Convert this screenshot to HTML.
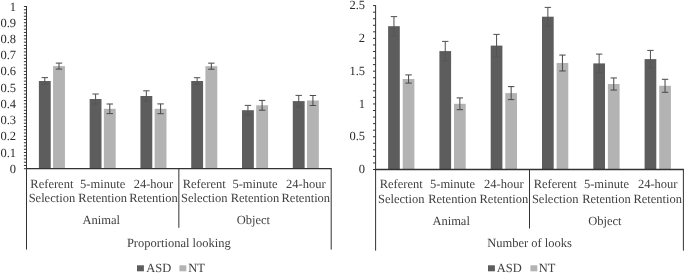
<!DOCTYPE html>
<html><head><meta charset="utf-8"><style>
html,body{margin:0;padding:0;background:#fff;}
body{width:685px;height:274px;overflow:hidden;}
svg{display:block;}
text{fill:#404040;text-rendering:geometricPrecision;}
</style></head><body>
<svg width="685" height="274" viewBox="0 0 685 274" font-family='"Liberation Serif", "Times New Roman", serif' font-size="12.5" fill="#404040"><rect x="38.87" y="81.00" width="11.85" height="87.70" fill="#5d5d5d"/>
<rect x="53.07" y="66.10" width="11.85" height="102.60" fill="#b3b3b3"/>
<line x1="44.79" y1="77.60" x2="44.79" y2="84.40" stroke="#565656" stroke-width="1.05"/>
<line x1="41.59" y1="77.60" x2="47.99" y2="77.60" stroke="#565656" stroke-width="1.05"/>
<line x1="41.59" y1="84.40" x2="47.99" y2="84.40" stroke="#565656" stroke-width="1.05"/>
<line x1="58.99" y1="63.10" x2="58.99" y2="69.10" stroke="#4d4d4d" stroke-width="1.05"/>
<line x1="55.79" y1="63.10" x2="62.19" y2="63.10" stroke="#4d4d4d" stroke-width="1.05"/>
<line x1="55.79" y1="69.10" x2="62.19" y2="69.10" stroke="#4d4d4d" stroke-width="1.05"/>
<rect x="89.65" y="99.00" width="11.85" height="69.70" fill="#5d5d5d"/>
<rect x="103.85" y="108.80" width="11.85" height="59.90" fill="#b3b3b3"/>
<line x1="95.58" y1="94.00" x2="95.58" y2="104.00" stroke="#565656" stroke-width="1.05"/>
<line x1="92.38" y1="94.00" x2="98.78" y2="94.00" stroke="#565656" stroke-width="1.05"/>
<line x1="92.38" y1="104.00" x2="98.78" y2="104.00" stroke="#565656" stroke-width="1.05"/>
<line x1="109.77" y1="104.00" x2="109.77" y2="113.60" stroke="#4d4d4d" stroke-width="1.05"/>
<line x1="106.57" y1="104.00" x2="112.97" y2="104.00" stroke="#4d4d4d" stroke-width="1.05"/>
<line x1="106.57" y1="113.60" x2="112.97" y2="113.60" stroke="#4d4d4d" stroke-width="1.05"/>
<rect x="140.43" y="96.00" width="11.85" height="72.70" fill="#5d5d5d"/>
<rect x="154.63" y="108.80" width="11.85" height="59.90" fill="#b3b3b3"/>
<line x1="146.36" y1="90.80" x2="146.36" y2="101.20" stroke="#565656" stroke-width="1.05"/>
<line x1="143.16" y1="90.80" x2="149.56" y2="90.80" stroke="#565656" stroke-width="1.05"/>
<line x1="143.16" y1="101.20" x2="149.56" y2="101.20" stroke="#565656" stroke-width="1.05"/>
<line x1="160.56" y1="103.90" x2="160.56" y2="113.70" stroke="#4d4d4d" stroke-width="1.05"/>
<line x1="157.36" y1="103.90" x2="163.76" y2="103.90" stroke="#4d4d4d" stroke-width="1.05"/>
<line x1="157.36" y1="113.70" x2="163.76" y2="113.70" stroke="#4d4d4d" stroke-width="1.05"/>
<rect x="191.22" y="81.00" width="11.85" height="87.70" fill="#5d5d5d"/>
<rect x="205.42" y="66.20" width="11.85" height="102.50" fill="#b3b3b3"/>
<line x1="197.14" y1="77.70" x2="197.14" y2="84.30" stroke="#565656" stroke-width="1.05"/>
<line x1="193.94" y1="77.70" x2="200.34" y2="77.70" stroke="#565656" stroke-width="1.05"/>
<line x1="193.94" y1="84.30" x2="200.34" y2="84.30" stroke="#565656" stroke-width="1.05"/>
<line x1="211.34" y1="63.15" x2="211.34" y2="69.25" stroke="#4d4d4d" stroke-width="1.05"/>
<line x1="208.14" y1="63.15" x2="214.54" y2="63.15" stroke="#4d4d4d" stroke-width="1.05"/>
<line x1="208.14" y1="69.25" x2="214.54" y2="69.25" stroke="#4d4d4d" stroke-width="1.05"/>
<rect x="242.00" y="110.20" width="11.85" height="58.50" fill="#5d5d5d"/>
<rect x="256.20" y="105.30" width="11.85" height="63.40" fill="#b3b3b3"/>
<line x1="247.92" y1="105.40" x2="247.92" y2="115.00" stroke="#565656" stroke-width="1.05"/>
<line x1="244.72" y1="105.40" x2="251.12" y2="105.40" stroke="#565656" stroke-width="1.05"/>
<line x1="244.72" y1="115.00" x2="251.12" y2="115.00" stroke="#565656" stroke-width="1.05"/>
<line x1="262.12" y1="100.40" x2="262.12" y2="110.20" stroke="#4d4d4d" stroke-width="1.05"/>
<line x1="258.93" y1="100.40" x2="265.32" y2="100.40" stroke="#4d4d4d" stroke-width="1.05"/>
<line x1="258.93" y1="110.20" x2="265.32" y2="110.20" stroke="#4d4d4d" stroke-width="1.05"/>
<rect x="292.78" y="101.10" width="11.85" height="67.60" fill="#5d5d5d"/>
<rect x="306.98" y="100.50" width="11.85" height="68.20" fill="#b3b3b3"/>
<line x1="298.71" y1="95.40" x2="298.71" y2="106.80" stroke="#565656" stroke-width="1.05"/>
<line x1="295.51" y1="95.40" x2="301.91" y2="95.40" stroke="#565656" stroke-width="1.05"/>
<line x1="295.51" y1="106.80" x2="301.91" y2="106.80" stroke="#565656" stroke-width="1.05"/>
<line x1="312.91" y1="95.50" x2="312.91" y2="105.50" stroke="#4d4d4d" stroke-width="1.05"/>
<line x1="309.71" y1="95.50" x2="316.11" y2="95.50" stroke="#4d4d4d" stroke-width="1.05"/>
<line x1="309.71" y1="105.50" x2="316.11" y2="105.50" stroke="#4d4d4d" stroke-width="1.05"/>
<line x1="26.50" y1="6.00" x2="26.50" y2="249.60" stroke="#333333" stroke-width="1"/>
<line x1="23.90" y1="168.70" x2="26.50" y2="168.70" stroke="#333333" stroke-width="1"/>
<line x1="23.90" y1="165.46" x2="26.50" y2="165.46" stroke="#333333" stroke-width="1"/>
<line x1="23.90" y1="162.21" x2="26.50" y2="162.21" stroke="#333333" stroke-width="1"/>
<line x1="23.90" y1="158.97" x2="26.50" y2="158.97" stroke="#333333" stroke-width="1"/>
<line x1="23.90" y1="155.72" x2="26.50" y2="155.72" stroke="#333333" stroke-width="1"/>
<line x1="23.90" y1="152.48" x2="26.50" y2="152.48" stroke="#333333" stroke-width="1"/>
<line x1="23.90" y1="149.24" x2="26.50" y2="149.24" stroke="#333333" stroke-width="1"/>
<line x1="23.90" y1="145.99" x2="26.50" y2="145.99" stroke="#333333" stroke-width="1"/>
<line x1="23.90" y1="142.75" x2="26.50" y2="142.75" stroke="#333333" stroke-width="1"/>
<line x1="23.90" y1="139.50" x2="26.50" y2="139.50" stroke="#333333" stroke-width="1"/>
<line x1="23.90" y1="136.26" x2="26.50" y2="136.26" stroke="#333333" stroke-width="1"/>
<line x1="23.90" y1="133.02" x2="26.50" y2="133.02" stroke="#333333" stroke-width="1"/>
<line x1="23.90" y1="129.77" x2="26.50" y2="129.77" stroke="#333333" stroke-width="1"/>
<line x1="23.90" y1="126.53" x2="26.50" y2="126.53" stroke="#333333" stroke-width="1"/>
<line x1="23.90" y1="123.28" x2="26.50" y2="123.28" stroke="#333333" stroke-width="1"/>
<line x1="23.90" y1="120.04" x2="26.50" y2="120.04" stroke="#333333" stroke-width="1"/>
<line x1="23.90" y1="116.80" x2="26.50" y2="116.80" stroke="#333333" stroke-width="1"/>
<line x1="23.90" y1="113.55" x2="26.50" y2="113.55" stroke="#333333" stroke-width="1"/>
<line x1="23.90" y1="110.31" x2="26.50" y2="110.31" stroke="#333333" stroke-width="1"/>
<line x1="23.90" y1="107.06" x2="26.50" y2="107.06" stroke="#333333" stroke-width="1"/>
<line x1="23.90" y1="103.82" x2="26.50" y2="103.82" stroke="#333333" stroke-width="1"/>
<line x1="23.90" y1="100.58" x2="26.50" y2="100.58" stroke="#333333" stroke-width="1"/>
<line x1="23.90" y1="97.33" x2="26.50" y2="97.33" stroke="#333333" stroke-width="1"/>
<line x1="23.90" y1="94.09" x2="26.50" y2="94.09" stroke="#333333" stroke-width="1"/>
<line x1="23.90" y1="90.84" x2="26.50" y2="90.84" stroke="#333333" stroke-width="1"/>
<line x1="23.90" y1="87.60" x2="26.50" y2="87.60" stroke="#333333" stroke-width="1"/>
<line x1="23.90" y1="84.36" x2="26.50" y2="84.36" stroke="#333333" stroke-width="1"/>
<line x1="23.90" y1="81.11" x2="26.50" y2="81.11" stroke="#333333" stroke-width="1"/>
<line x1="23.90" y1="77.87" x2="26.50" y2="77.87" stroke="#333333" stroke-width="1"/>
<line x1="23.90" y1="74.62" x2="26.50" y2="74.62" stroke="#333333" stroke-width="1"/>
<line x1="23.90" y1="71.38" x2="26.50" y2="71.38" stroke="#333333" stroke-width="1"/>
<line x1="23.90" y1="68.14" x2="26.50" y2="68.14" stroke="#333333" stroke-width="1"/>
<line x1="23.90" y1="64.89" x2="26.50" y2="64.89" stroke="#333333" stroke-width="1"/>
<line x1="23.90" y1="61.65" x2="26.50" y2="61.65" stroke="#333333" stroke-width="1"/>
<line x1="23.90" y1="58.40" x2="26.50" y2="58.40" stroke="#333333" stroke-width="1"/>
<line x1="23.90" y1="55.16" x2="26.50" y2="55.16" stroke="#333333" stroke-width="1"/>
<line x1="23.90" y1="51.92" x2="26.50" y2="51.92" stroke="#333333" stroke-width="1"/>
<line x1="23.90" y1="48.67" x2="26.50" y2="48.67" stroke="#333333" stroke-width="1"/>
<line x1="23.90" y1="45.43" x2="26.50" y2="45.43" stroke="#333333" stroke-width="1"/>
<line x1="23.90" y1="42.18" x2="26.50" y2="42.18" stroke="#333333" stroke-width="1"/>
<line x1="23.90" y1="38.94" x2="26.50" y2="38.94" stroke="#333333" stroke-width="1"/>
<line x1="23.90" y1="35.70" x2="26.50" y2="35.70" stroke="#333333" stroke-width="1"/>
<line x1="23.90" y1="32.45" x2="26.50" y2="32.45" stroke="#333333" stroke-width="1"/>
<line x1="23.90" y1="29.21" x2="26.50" y2="29.21" stroke="#333333" stroke-width="1"/>
<line x1="23.90" y1="25.96" x2="26.50" y2="25.96" stroke="#333333" stroke-width="1"/>
<line x1="23.90" y1="22.72" x2="26.50" y2="22.72" stroke="#333333" stroke-width="1"/>
<line x1="23.90" y1="19.48" x2="26.50" y2="19.48" stroke="#333333" stroke-width="1"/>
<line x1="23.90" y1="16.23" x2="26.50" y2="16.23" stroke="#333333" stroke-width="1"/>
<line x1="23.90" y1="12.99" x2="26.50" y2="12.99" stroke="#333333" stroke-width="1"/>
<line x1="23.90" y1="9.74" x2="26.50" y2="9.74" stroke="#333333" stroke-width="1"/>
<line x1="23.90" y1="6.50" x2="26.50" y2="6.50" stroke="#333333" stroke-width="1"/>
<line x1="26.00" y1="168.70" x2="331.70" y2="168.70" stroke="#333333" stroke-width="1.3"/>
<line x1="331.20" y1="168.70" x2="331.20" y2="249.60" stroke="#333333" stroke-width="1"/>
<line x1="178.85" y1="168.70" x2="178.85" y2="227.80" stroke="#333333" stroke-width="1"/>
<text x="16.00" y="10.60" text-anchor="end" style="fill:#2b2b2b">1</text>
<text x="16.00" y="26.82" text-anchor="end" style="fill:#2b2b2b">0.9</text>
<text x="16.00" y="43.04" text-anchor="end" style="fill:#2b2b2b">0.8</text>
<text x="16.00" y="59.26" text-anchor="end" style="fill:#2b2b2b">0.7</text>
<text x="16.00" y="75.48" text-anchor="end" style="fill:#2b2b2b">0.6</text>
<text x="16.00" y="91.70" text-anchor="end" style="fill:#2b2b2b">0.5</text>
<text x="16.00" y="107.92" text-anchor="end" style="fill:#2b2b2b">0.4</text>
<text x="16.00" y="124.14" text-anchor="end" style="fill:#2b2b2b">0.3</text>
<text x="16.00" y="140.36" text-anchor="end" style="fill:#2b2b2b">0.2</text>
<text x="16.00" y="156.58" text-anchor="end" style="fill:#2b2b2b">0.1</text>
<text x="16.00" y="172.80" text-anchor="end" style="fill:#2b2b2b">0</text>
<text x="51.89" y="187.80" text-anchor="middle">Referent</text>
<text x="51.89" y="201.90" text-anchor="middle">Selection</text>
<text x="102.67" y="187.80" text-anchor="middle">5-minute</text>
<text x="102.67" y="201.90" text-anchor="middle">Retention</text>
<text x="153.46" y="187.80" text-anchor="middle">24-hour</text>
<text x="153.46" y="201.90" text-anchor="middle">Retention</text>
<text x="204.24" y="187.80" text-anchor="middle">Referent</text>
<text x="204.24" y="201.90" text-anchor="middle">Selection</text>
<text x="255.02" y="187.80" text-anchor="middle">5-minute</text>
<text x="255.02" y="201.90" text-anchor="middle">Retention</text>
<text x="305.81" y="187.80" text-anchor="middle">24-hour</text>
<text x="305.81" y="201.90" text-anchor="middle">Retention</text>
<text x="101.27" y="224.30" text-anchor="middle">Animal</text>
<text x="253.42" y="224.30" text-anchor="middle">Object</text>
<text x="178.85" y="247.00" text-anchor="middle">Proportional looking</text>
<rect x="137.00" y="265.30" width="6.90" height="6.00" fill="#5d5d5d"/>
<text x="146.30" y="271.70" text-anchor="start">ASD</text>
<rect x="179.40" y="265.30" width="6.90" height="6.00" fill="#b3b3b3"/>
<text x="188.20" y="271.70" text-anchor="start">NT</text>
<rect x="388.10" y="26.20" width="11.70" height="143.30" fill="#5d5d5d"/>
<rect x="402.70" y="79.00" width="11.70" height="90.50" fill="#b3b3b3"/>
<line x1="393.95" y1="16.60" x2="393.95" y2="35.80" stroke="#565656" stroke-width="1.05"/>
<line x1="390.75" y1="16.60" x2="397.15" y2="16.60" stroke="#565656" stroke-width="1.05"/>
<line x1="390.75" y1="35.80" x2="397.15" y2="35.80" stroke="#565656" stroke-width="1.05"/>
<line x1="408.55" y1="74.90" x2="408.55" y2="83.10" stroke="#4d4d4d" stroke-width="1.05"/>
<line x1="405.35" y1="74.90" x2="411.75" y2="74.90" stroke="#4d4d4d" stroke-width="1.05"/>
<line x1="405.35" y1="83.10" x2="411.75" y2="83.10" stroke="#4d4d4d" stroke-width="1.05"/>
<rect x="439.40" y="51.10" width="11.70" height="118.40" fill="#5d5d5d"/>
<rect x="454.00" y="103.80" width="11.70" height="65.70" fill="#b3b3b3"/>
<line x1="445.25" y1="41.40" x2="445.25" y2="60.80" stroke="#565656" stroke-width="1.05"/>
<line x1="442.05" y1="41.40" x2="448.45" y2="41.40" stroke="#565656" stroke-width="1.05"/>
<line x1="442.05" y1="60.80" x2="448.45" y2="60.80" stroke="#565656" stroke-width="1.05"/>
<line x1="459.85" y1="97.90" x2="459.85" y2="109.70" stroke="#4d4d4d" stroke-width="1.05"/>
<line x1="456.65" y1="97.90" x2="463.05" y2="97.90" stroke="#4d4d4d" stroke-width="1.05"/>
<line x1="456.65" y1="109.70" x2="463.05" y2="109.70" stroke="#4d4d4d" stroke-width="1.05"/>
<rect x="490.70" y="45.60" width="11.70" height="123.90" fill="#5d5d5d"/>
<rect x="505.30" y="93.10" width="11.70" height="76.40" fill="#b3b3b3"/>
<line x1="496.55" y1="34.40" x2="496.55" y2="56.80" stroke="#565656" stroke-width="1.05"/>
<line x1="493.35" y1="34.40" x2="499.75" y2="34.40" stroke="#565656" stroke-width="1.05"/>
<line x1="493.35" y1="56.80" x2="499.75" y2="56.80" stroke="#565656" stroke-width="1.05"/>
<line x1="511.15" y1="86.60" x2="511.15" y2="99.60" stroke="#4d4d4d" stroke-width="1.05"/>
<line x1="507.95" y1="86.60" x2="514.35" y2="86.60" stroke="#4d4d4d" stroke-width="1.05"/>
<line x1="507.95" y1="99.60" x2="514.35" y2="99.60" stroke="#4d4d4d" stroke-width="1.05"/>
<rect x="542.00" y="16.70" width="11.70" height="152.80" fill="#5d5d5d"/>
<rect x="556.60" y="63.00" width="11.70" height="106.50" fill="#b3b3b3"/>
<line x1="547.85" y1="7.40" x2="547.85" y2="26.00" stroke="#565656" stroke-width="1.05"/>
<line x1="544.65" y1="7.40" x2="551.05" y2="7.40" stroke="#565656" stroke-width="1.05"/>
<line x1="544.65" y1="26.00" x2="551.05" y2="26.00" stroke="#565656" stroke-width="1.05"/>
<line x1="562.45" y1="55.05" x2="562.45" y2="70.95" stroke="#4d4d4d" stroke-width="1.05"/>
<line x1="559.25" y1="55.05" x2="565.65" y2="55.05" stroke="#4d4d4d" stroke-width="1.05"/>
<line x1="559.25" y1="70.95" x2="565.65" y2="70.95" stroke="#4d4d4d" stroke-width="1.05"/>
<rect x="593.30" y="63.40" width="11.70" height="106.10" fill="#5d5d5d"/>
<rect x="607.90" y="84.00" width="11.70" height="85.50" fill="#b3b3b3"/>
<line x1="599.15" y1="54.10" x2="599.15" y2="72.70" stroke="#565656" stroke-width="1.05"/>
<line x1="595.95" y1="54.10" x2="602.35" y2="54.10" stroke="#565656" stroke-width="1.05"/>
<line x1="595.95" y1="72.70" x2="602.35" y2="72.70" stroke="#565656" stroke-width="1.05"/>
<line x1="613.75" y1="77.95" x2="613.75" y2="90.05" stroke="#4d4d4d" stroke-width="1.05"/>
<line x1="610.55" y1="77.95" x2="616.95" y2="77.95" stroke="#4d4d4d" stroke-width="1.05"/>
<line x1="610.55" y1="90.05" x2="616.95" y2="90.05" stroke="#4d4d4d" stroke-width="1.05"/>
<rect x="644.60" y="59.10" width="11.70" height="110.40" fill="#5d5d5d"/>
<rect x="659.20" y="85.80" width="11.70" height="83.70" fill="#b3b3b3"/>
<line x1="650.45" y1="50.40" x2="650.45" y2="67.80" stroke="#565656" stroke-width="1.05"/>
<line x1="647.25" y1="50.40" x2="653.65" y2="50.40" stroke="#565656" stroke-width="1.05"/>
<line x1="647.25" y1="67.80" x2="653.65" y2="67.80" stroke="#565656" stroke-width="1.05"/>
<line x1="665.05" y1="79.30" x2="665.05" y2="92.30" stroke="#4d4d4d" stroke-width="1.05"/>
<line x1="661.85" y1="79.30" x2="668.25" y2="79.30" stroke="#4d4d4d" stroke-width="1.05"/>
<line x1="661.85" y1="92.30" x2="668.25" y2="92.30" stroke="#4d4d4d" stroke-width="1.05"/>
<line x1="375.60" y1="5.10" x2="375.60" y2="250.60" stroke="#333333" stroke-width="1"/>
<line x1="373.00" y1="169.50" x2="375.60" y2="169.50" stroke="#333333" stroke-width="1"/>
<line x1="373.00" y1="162.94" x2="375.60" y2="162.94" stroke="#333333" stroke-width="1"/>
<line x1="373.00" y1="156.39" x2="375.60" y2="156.39" stroke="#333333" stroke-width="1"/>
<line x1="373.00" y1="149.83" x2="375.60" y2="149.83" stroke="#333333" stroke-width="1"/>
<line x1="373.00" y1="143.28" x2="375.60" y2="143.28" stroke="#333333" stroke-width="1"/>
<line x1="373.00" y1="136.72" x2="375.60" y2="136.72" stroke="#333333" stroke-width="1"/>
<line x1="373.00" y1="130.16" x2="375.60" y2="130.16" stroke="#333333" stroke-width="1"/>
<line x1="373.00" y1="123.61" x2="375.60" y2="123.61" stroke="#333333" stroke-width="1"/>
<line x1="373.00" y1="117.05" x2="375.60" y2="117.05" stroke="#333333" stroke-width="1"/>
<line x1="373.00" y1="110.50" x2="375.60" y2="110.50" stroke="#333333" stroke-width="1"/>
<line x1="373.00" y1="103.94" x2="375.60" y2="103.94" stroke="#333333" stroke-width="1"/>
<line x1="373.00" y1="97.38" x2="375.60" y2="97.38" stroke="#333333" stroke-width="1"/>
<line x1="373.00" y1="90.83" x2="375.60" y2="90.83" stroke="#333333" stroke-width="1"/>
<line x1="373.00" y1="84.27" x2="375.60" y2="84.27" stroke="#333333" stroke-width="1"/>
<line x1="373.00" y1="77.72" x2="375.60" y2="77.72" stroke="#333333" stroke-width="1"/>
<line x1="373.00" y1="71.16" x2="375.60" y2="71.16" stroke="#333333" stroke-width="1"/>
<line x1="373.00" y1="64.60" x2="375.60" y2="64.60" stroke="#333333" stroke-width="1"/>
<line x1="373.00" y1="58.05" x2="375.60" y2="58.05" stroke="#333333" stroke-width="1"/>
<line x1="373.00" y1="51.49" x2="375.60" y2="51.49" stroke="#333333" stroke-width="1"/>
<line x1="373.00" y1="44.94" x2="375.60" y2="44.94" stroke="#333333" stroke-width="1"/>
<line x1="373.00" y1="38.38" x2="375.60" y2="38.38" stroke="#333333" stroke-width="1"/>
<line x1="373.00" y1="31.82" x2="375.60" y2="31.82" stroke="#333333" stroke-width="1"/>
<line x1="373.00" y1="25.27" x2="375.60" y2="25.27" stroke="#333333" stroke-width="1"/>
<line x1="373.00" y1="18.71" x2="375.60" y2="18.71" stroke="#333333" stroke-width="1"/>
<line x1="373.00" y1="12.16" x2="375.60" y2="12.16" stroke="#333333" stroke-width="1"/>
<line x1="373.00" y1="5.60" x2="375.60" y2="5.60" stroke="#333333" stroke-width="1"/>
<line x1="375.10" y1="169.50" x2="683.90" y2="169.50" stroke="#333333" stroke-width="1.3"/>
<line x1="683.40" y1="169.50" x2="683.40" y2="250.60" stroke="#333333" stroke-width="1"/>
<line x1="529.50" y1="169.50" x2="529.50" y2="228.50" stroke="#333333" stroke-width="1"/>
<text x="365.00" y="9.30" text-anchor="end" style="fill:#2b2b2b">2.5</text>
<text x="365.00" y="42.08" text-anchor="end" style="fill:#2b2b2b">2</text>
<text x="365.00" y="74.86" text-anchor="end" style="fill:#2b2b2b">1.5</text>
<text x="365.00" y="107.64" text-anchor="end" style="fill:#2b2b2b">1</text>
<text x="365.00" y="140.42" text-anchor="end" style="fill:#2b2b2b">0.5</text>
<text x="365.00" y="173.20" text-anchor="end" style="fill:#2b2b2b">0</text>
<text x="401.25" y="188.30" text-anchor="middle">Referent</text>
<text x="401.25" y="202.80" text-anchor="middle">Selection</text>
<text x="452.55" y="188.30" text-anchor="middle">5-minute</text>
<text x="452.55" y="202.80" text-anchor="middle">Retention</text>
<text x="503.85" y="188.30" text-anchor="middle">24-hour</text>
<text x="503.85" y="202.80" text-anchor="middle">Retention</text>
<text x="555.15" y="188.30" text-anchor="middle">Referent</text>
<text x="555.15" y="202.80" text-anchor="middle">Selection</text>
<text x="606.45" y="188.30" text-anchor="middle">5-minute</text>
<text x="606.45" y="202.80" text-anchor="middle">Retention</text>
<text x="657.75" y="188.30" text-anchor="middle">24-hour</text>
<text x="657.75" y="202.80" text-anchor="middle">Retention</text>
<text x="451.15" y="224.70" text-anchor="middle">Animal</text>
<text x="604.85" y="224.70" text-anchor="middle">Object</text>
<text x="529.50" y="247.10" text-anchor="middle">Number of looks</text>
<rect x="488.00" y="265.30" width="6.90" height="6.00" fill="#5d5d5d"/>
<text x="496.80" y="271.70" text-anchor="start">ASD</text>
<rect x="530.40" y="265.30" width="6.90" height="6.00" fill="#b3b3b3"/>
<text x="538.70" y="271.70" text-anchor="start">NT</text></svg>
</body></html>
